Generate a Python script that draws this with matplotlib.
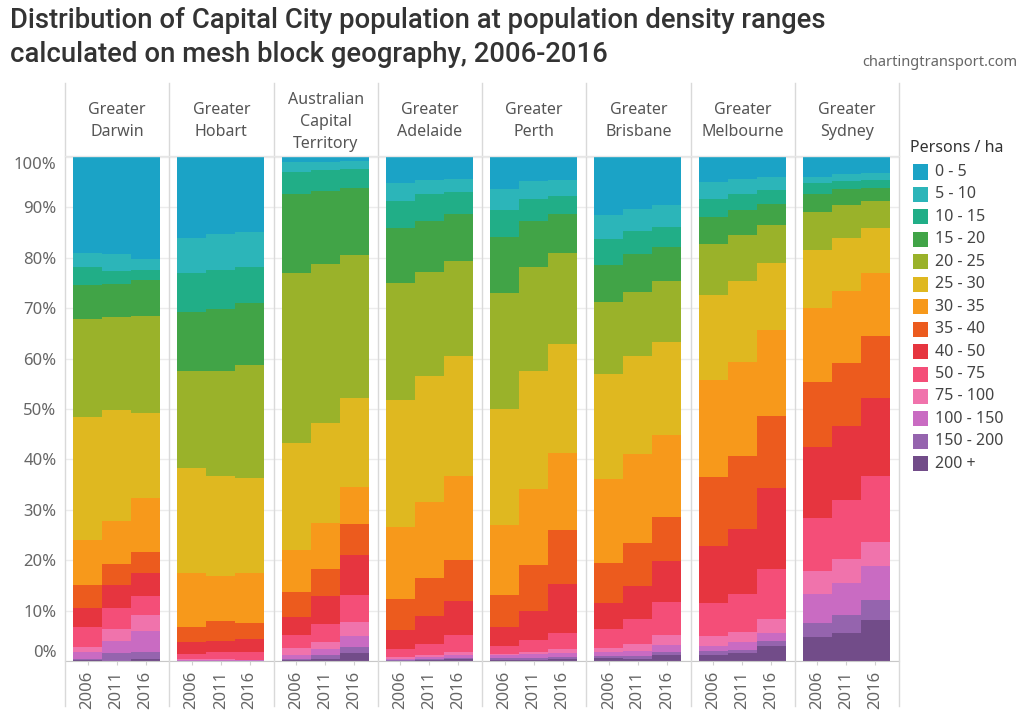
import matplotlib
matplotlib.use('Agg')
import matplotlib.pyplot as plt
import numpy as np
from matplotlib.lines import Line2D
from matplotlib.patches import Rectangle

plt.rcParams['font.family'] = ['Noto Sans', 'DejaVu Sans']

years = ['2006', '2011', '2016']
bands = ['0 - 5', '5 - 10', '10 - 15', '15 - 20', '20 - 25', '25 - 30',
         '30 - 35', '35 - 40', '40 - 50', '50 - 75', '75 - 100',
         '100 - 150', '150 - 200', '200 +']
colours = ['#1ba3c6', '#2cb5b9', '#21ae87', '#41a447', '#9ab22a', '#dfb820',
           '#f7991b', '#ec5b1e', '#e6353f', '#f44e78', '#f073ac', '#c96bc2',
           '#9564ae', '#724c89']
headers = ['Greater\nDarwin', 'Greater\nHobart', 'Australian\nCapital\nTerritory',
           'Greater\nAdelaide', 'Greater\nPerth', 'Greater\nBrisbane',
           'Greater\nMelbourne', 'Greater\nSydney']

# % of population in each density band (0-5 ... 200+), rows = 2006, 2011, 2016
darwin = [[19.1, 2.8, 3.4, 6.9, 19.3, 24.4, 9.1, 4.4, 3.8, 4.1, 1.0, 1.3, 0.3, 0.1],
          [19.3, 3.3, 2.5, 6.6, 18.5, 22.1, 8.4, 4.3, 4.5, 4.1, 2.5, 2.4, 1.45, 0.05],
          [20.2, 2.2, 2.0, 7.1, 19.2, 16.9, 10.7, 4.2, 4.7, 3.6, 3.3, 4.1, 1.5, 0.3]]
hobart = [[16.1, 7.0, 7.6, 11.7, 19.4, 20.8, 10.6, 3.1, 2.3, 1.1, 0.15, 0.1, 0.03, 0.02],
          [15.3, 7.1, 7.8, 12.2, 20.8, 20.0, 8.9, 4.0, 2.2, 1.3, 0.25, 0.1, 0.03, 0.02],
          [14.8, 7.1, 7.0, 12.4, 22.3, 19.0, 9.8, 3.3, 2.6, 1.5, 0.1, 0.05, 0.03, 0.02]]
act = [[1.0, 2.0, 4.4, 15.6, 33.7, 21.2, 8.4, 4.9, 3.7, 2.6, 1.3, 0.8, 0.3, 0.1],
       [0.9, 1.7, 4.2, 14.4, 31.5, 20.0, 9.0, 5.5, 5.4, 3.7, 1.3, 1.2, 0.8, 0.4],
       [0.7, 1.6, 3.8, 13.4, 28.3, 17.6, 7.5, 6.1, 8.0, 5.2, 2.9, 2.2, 1.1, 1.6]]
adelaide = [[5.2, 3.5, 5.4, 10.9, 23.2, 25.2, 14.3, 6.2, 3.8, 1.5, 0.4, 0.2, 0.15, 0.05],
            [4.6, 2.8, 5.2, 10.2, 20.7, 25.0, 15.1, 7.4, 5.6, 2.2, 0.4, 0.4, 0.3, 0.1],
            [4.4, 2.5, 4.5, 9.2, 18.8, 23.8, 16.7, 8.2, 6.7, 3.5, 0.5, 0.6, 0.3, 0.3]]
perth = [[6.3, 4.2, 5.4, 11.1, 23.0, 23.1, 13.9, 6.3, 3.8, 1.5, 0.3, 0.5, 0.4, 0.2],
         [4.8, 3.5, 4.4, 9.2, 20.5, 23.4, 15.1, 9.2, 5.8, 2.3, 0.5, 0.7, 0.4, 0.2],
         [4.6, 3.1, 3.7, 7.6, 18.1, 21.6, 15.4, 10.7, 9.6, 3.3, 0.7, 0.8, 0.5, 0.3]]
brisbane = [[11.6, 4.7, 5.2, 7.3, 14.3, 20.7, 16.7, 8.0, 5.1, 3.9, 0.7, 0.9, 0.3, 0.6],
            [10.4, 4.2, 4.6, 7.6, 12.7, 19.4, 17.6, 8.7, 6.4, 5.0, 1.5, 0.9, 0.6, 0.4],
            [9.6, 4.3, 4.0, 6.7, 12.1, 18.4, 16.3, 8.8, 8.1, 6.5, 2.0, 1.5, 0.6, 1.1]]
melbourne = [[5.0, 3.3, 3.6, 5.3, 10.1, 16.9, 19.2, 13.7, 11.4, 6.5, 2.1, 1.0, 0.8, 1.1],
             [4.4, 2.9, 3.2, 5.0, 9.1, 16.0, 18.8, 14.5, 12.9, 7.4, 2.1, 1.6, 0.6, 1.5],
             [4.0, 2.5, 2.8, 4.2, 7.5, 13.4, 16.9, 14.3, 16.1, 10.0, 2.7, 1.7, 1.0, 2.9]]
sydney = [[3.9, 1.3, 2.1, 3.7, 7.4, 11.5, 14.8, 12.9, 14.0, 10.5, 4.7, 5.6, 2.9, 4.7],
          [3.4, 1.3, 1.7, 3.2, 6.5, 10.5, 14.2, 12.5, 14.7, 11.7, 4.9, 6.2, 3.6, 5.6],
          [3.2, 1.4, 1.5, 2.6, 5.4, 8.9, 12.5, 12.3, 15.4, 13.2, 4.8, 6.7, 4.0, 8.1]]
cities = [darwin, hobart, act, adelaide, perth, brisbane, melbourne, sydney]

W, H = 1023, 714
fig = plt.figure(figsize=(W / 100, H / 100), dpi=100)


def fx(px):
    return px / W


def fy(py):
    return 1 - py / H


pane_l, pane_w = 65, 104.25
top, bot = 157, 661
bar_px, pad_px = 29, 8
grey = '#666666'

for i, (head, city) in enumerate(zip(headers, cities)):
    x0 = pane_l + i * pane_w
    ax = fig.add_axes([fx(x0), fy(bot), pane_w / W, (bot - top) / H])
    shares = np.array(city)
    base = np.zeros(3)
    # densest band at the bottom
    for k in range(len(bands) - 1, -1, -1):
        ax.bar(range(3), shares[:, k], width=1, bottom=base,
               color=colours[k], linewidth=0, zorder=2)
        base += shares[:, k]
    lo = -0.5 - pad_px / bar_px
    ax.set_xlim(lo, lo + pane_w / bar_px)
    ax.set_ylim(0, 100)
    ax.set_yticks(range(0, 101, 10))
    ax.grid(axis='y', color='#ececec', lw=1, zorder=0)
    for s in ['left', 'right', 'top']:
        ax.spines[s].set_visible(False)
    ax.spines['bottom'].set_color('#c8c8c8')
    ax.set_xticks(range(3))
    ax.set_xticklabels(years, rotation=90, fontsize=12, color=grey)
    ax.tick_params(axis='x', length=3, color='#d0d0d0', pad=4)
    ax.tick_params(axis='y', length=0, pad=6)
    if i == 0:
        ax.set_yticklabels([str(v) + '%' for v in range(0, 101, 10)],
                           fontsize=12, color=grey)
        labs = ax.get_yticklabels()
        labs[0].set_va('bottom')
        labs[-1].set_va('top')
    else:
        ax.set_yticklabels([])
    ax.set_facecolor('none')
    fig.text(fx(x0 + pane_w / 2), fy(121.5), head, ha='center', va='center',
             fontsize=11.5, color='#555555', linespacing=1.5)

# pane separators
for j in range(9):
    x = fx(pane_l + j * pane_w)
    fig.add_artist(Line2D([x, x], [fy(83), fy(706)], color='#d9d9d9', lw=1))
fig.add_artist(Line2D([fx(pane_l), fx(pane_l + 8 * pane_w)], [fy(156), fy(156)],
                      color='#e6e6e6', lw=1))

# titles
fig.text(fx(10), fy(21), 'Distribution of Capital City population at population density ranges',
         fontsize=19.8, color='#333333', va='center', family='Roboto', fontweight='medium')
fig.text(fx(10), fy(55), 'calculated on mesh block geography, 2006-2016',
         fontsize=19.8, color='#333333', va='center', family='Roboto', fontweight='medium')
fig.text(fx(1017), fy(62), 'chartingtransport.com', ha='right', va='center',
         fontsize=10.5, color=grey)

# legend
fig.text(fx(910), fy(148), 'Persons / ha', fontsize=11.5, color='#333333',
         va='center', fontweight='semibold')
for k, (lab, col) in enumerate(zip(bands, colours)):
    yc = 172 + 22.45 * k
    fig.add_artist(Rectangle((fx(913), fy(yc + 7.5)), 15 / W, 15 / H,
                             facecolor=col, edgecolor='none'))
    fig.text(fx(935), fy(yc), lab, fontsize=11.5, color='#444444', va='center')

fig.savefig('out.png', dpi=100)
